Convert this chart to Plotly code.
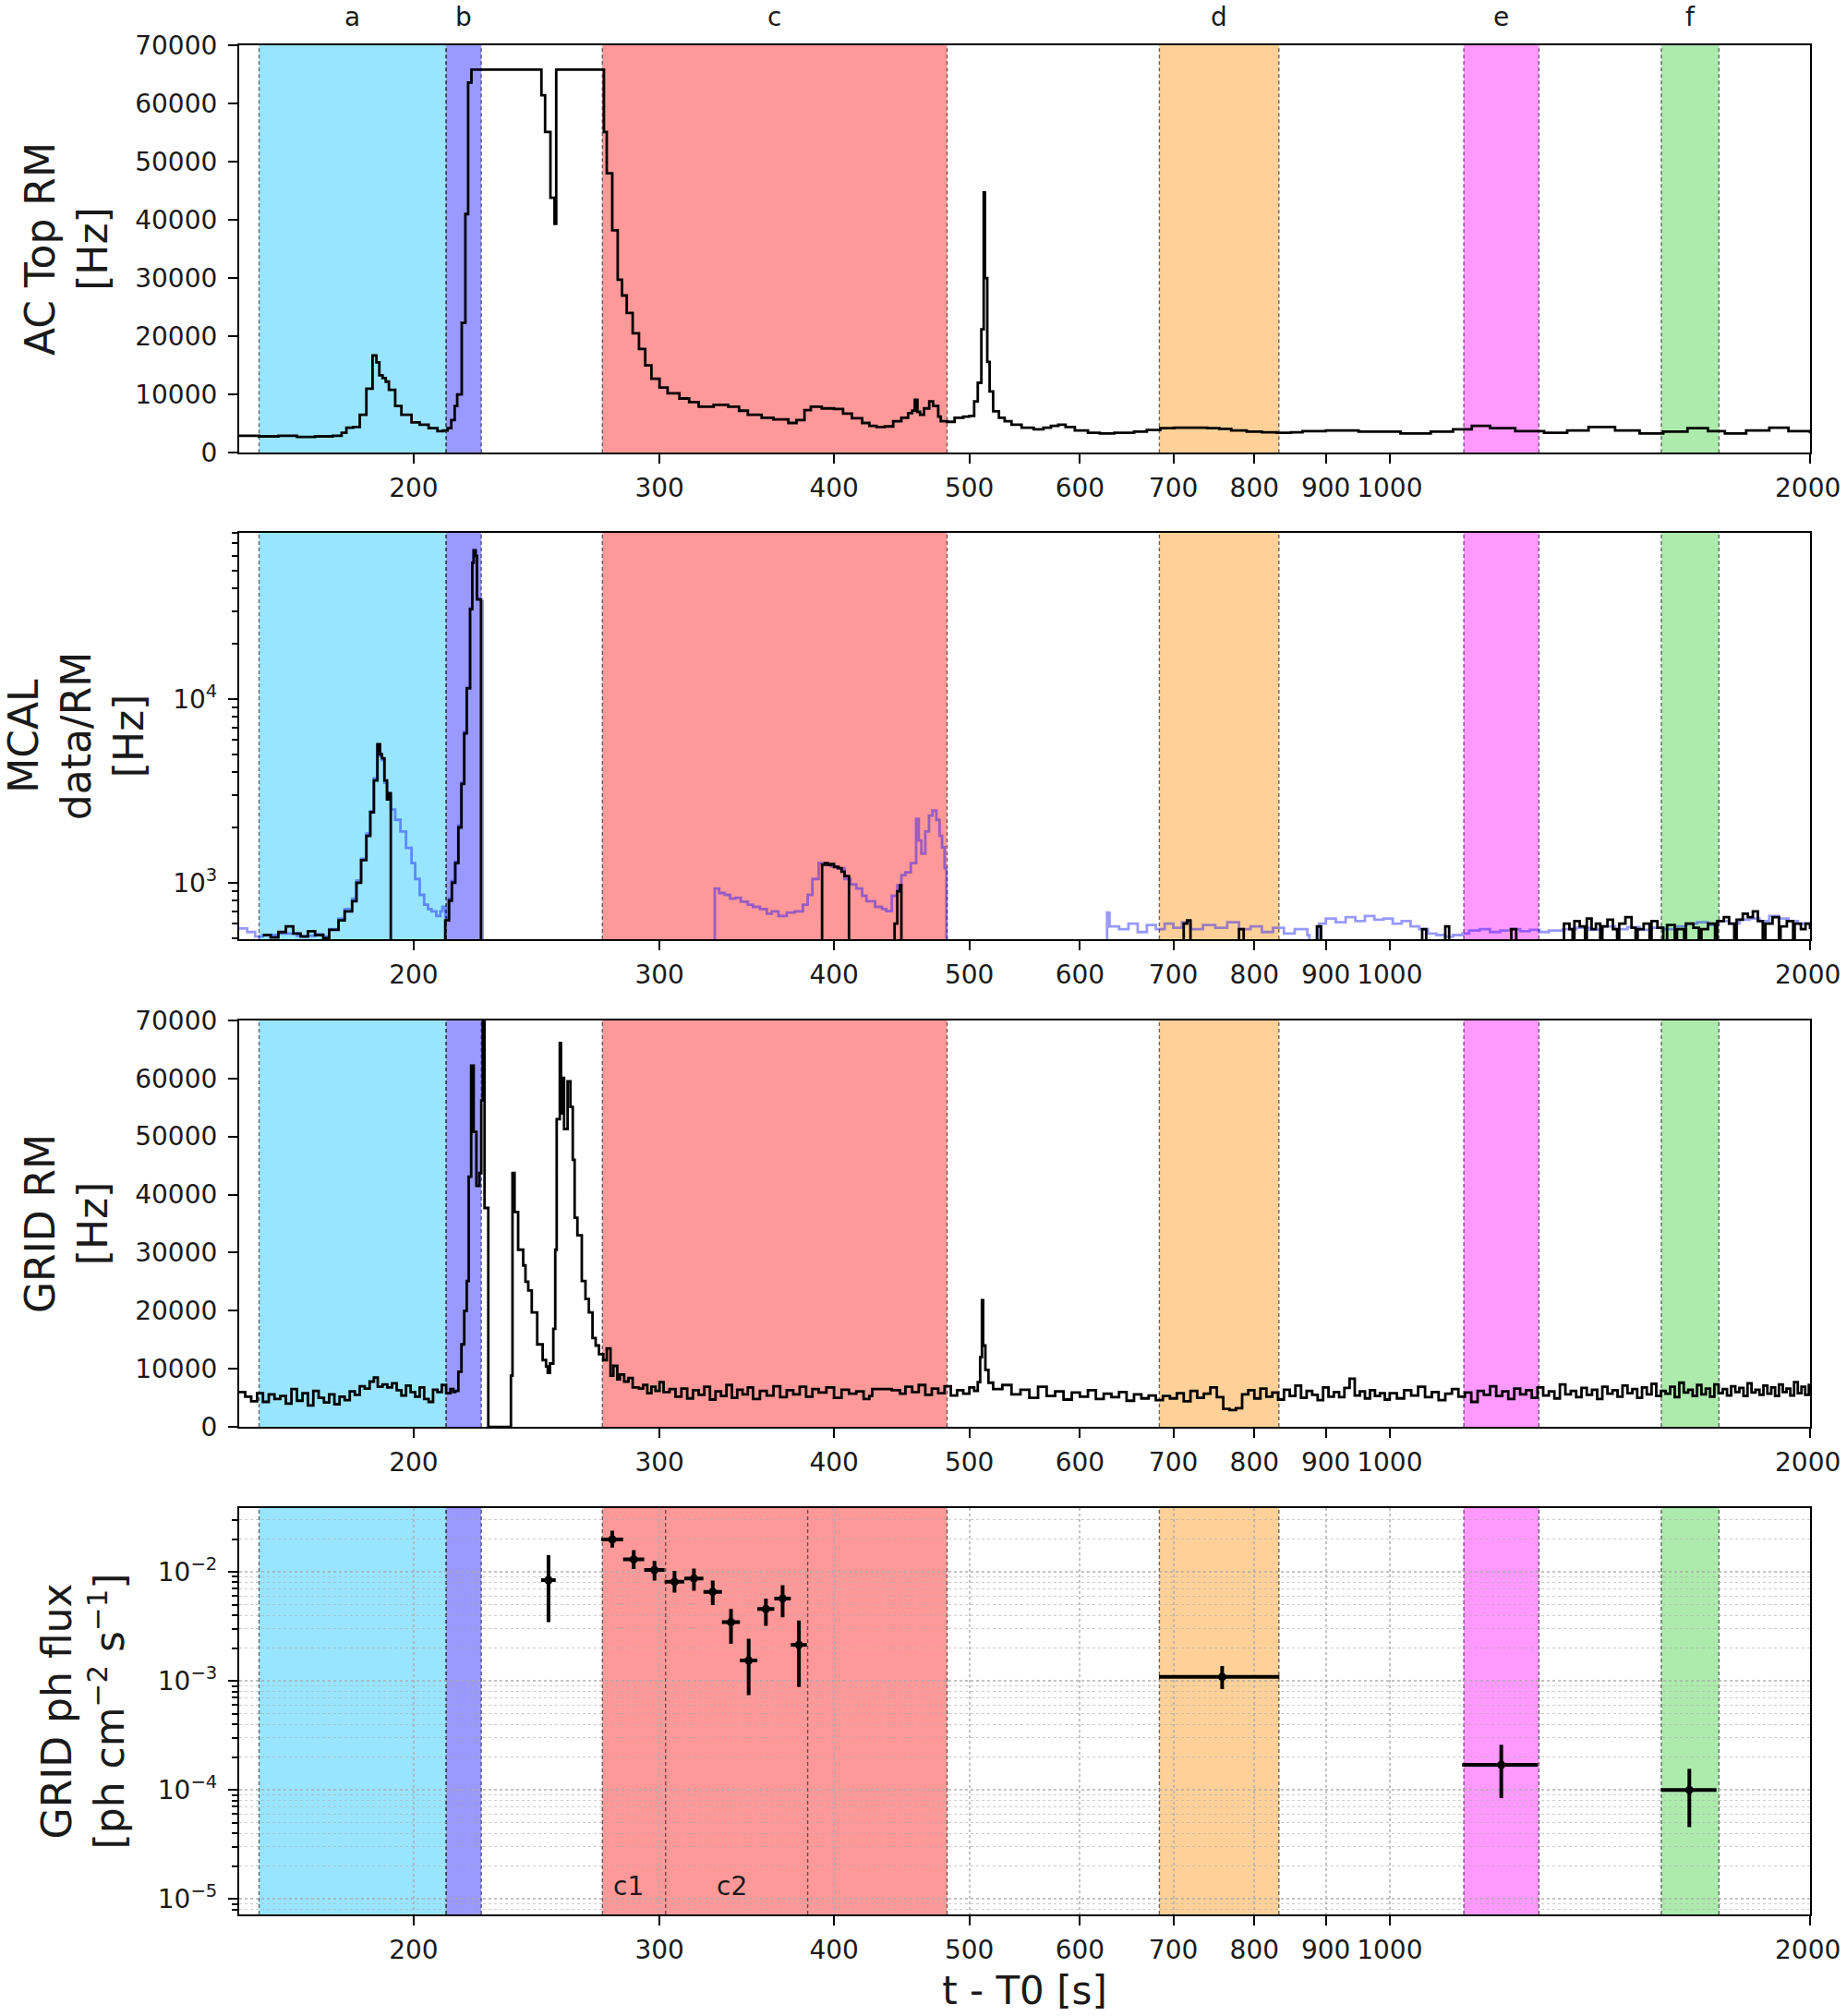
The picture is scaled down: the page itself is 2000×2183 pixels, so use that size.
import math
import plotly.graph_objects as go

# ---------------- data ----------------
X_RANGE = [150, 2000]
x_tickvals = [200, 300, 400, 500, 600, 700, 800, 900, 1000, 2000]
x_ticktext = ["200", "300", "400", "500", "600", "700", "800", "900", "1000", ""]
x_last_label = "2000"

band_names = ["a", "b", "c", "d", "e", "f"]
band_start = [155, 211, 273, 684, 1130, 1565]
band_end = [211, 223.6, 482, 833, 1279, 1721]
band_colors = ["#99e5ff", "#9999ff", "#ff9999", "#ffd199", "#ff99ff", "#adebad"]

sub_names = ["c1", "c2"]
sub_edges = [303, 383]
sub_label_t = [285, 338]

# Panel 1: AC Top ratemeter
ac_t = [150, 155, 160, 165, 170, 175, 177.6, 179, 181, 183, 185, 186.9, 188.1, 189, 190, 191, 192,
        194, 196, 199.3, 202, 205, 208, 210, 211.5, 212.8, 214, 214.9, 216.5, 217.8, 218.8, 220,
        230, 240, 246.2, 246.9, 248.4, 250.6, 252.3, 253, 260, 273, 273.7, 275, 277.5, 280, 282,
        284.2, 287, 290, 293, 296, 300, 304, 310, 315, 320, 328, 336, 342, 347, 355, 362, 371,
        376, 381, 385, 392, 400, 406, 412, 419, 424, 429, 435, 441, 447, 452, 455, 457, 459, 461,
        464, 468, 471, 475, 477, 482, 488, 495, 500, 504, 507, 510, 512, 513, 515, 517, 520, 525,
        530, 536, 545, 556, 565, 572, 579, 586, 595, 608, 620, 635, 656, 670, 685, 701, 720, 740,
        755, 770, 790, 810, 830, 850, 866, 900, 950, 1018, 1070, 1110, 1145, 1180, 1230, 1290,
        1340, 1388, 1450, 1510, 1570, 1634, 1690, 1738, 1800, 1870, 1930, 2000]
ac_rate = [2900, 2800, 2900, 2700, 2800, 2900, 3400, 4300, 4400, 6500, 11000, 16700, 15500, 13300,
           12800, 12200, 10800, 8000, 6500, 5200, 4800, 4200, 3700, 3800, 4200, 5600, 8000, 10000,
           22300, 41000, 63600, 65800, 65800, 65800, 65800, 61400, 55100, 43800, 39300, 65800,
           65800, 65800, 55100, 48000, 38200, 29700, 27000, 24000, 20500, 17800, 15000, 12700,
           11200, 10200, 9300, 8700, 7900, 8200, 7900, 7200, 6500, 6000, 5700, 5100, 5600, 7300,
           7900, 7600, 7500, 6700, 5900, 5100, 4600, 4400, 4500, 5400, 6000, 6800, 7200, 9100,
           7000, 6500, 7600, 8800, 8000, 6200, 5400, 5300, 6000, 6200, 6300, 8800, 12000, 21200,
           44700, 30000, 15600, 10500, 7100, 6000, 5400, 4800, 4300, 4000, 4300, 4600, 4800, 4400,
           3800, 3400, 3300, 3400, 3600, 3900, 4200, 4300, 4300, 4200, 4100, 3800, 3600, 3500,
           3400, 3500, 3700, 3800, 3600, 3300, 3600, 4000, 4600, 4200, 3700, 3400, 3800, 4400,
           3800, 3300, 3600, 4200, 3700, 3300, 3800, 4300, 3700, 3300]

# Panel 2: MCAL data (black) and ratemeter (blue); 1 = no counts (below axis)
mcal_data_t = [156, 158, 160, 162, 164, 166, 168, 170, 172.3, 174, 176.7, 178.5, 180.7, 182, 183.4,
               185, 186.2, 187.3, 188.4, 189.2, 189.8, 190.6, 191.4, 192, 192.6, 210.7, 212, 213,
               214.2, 215.3, 216.4, 217.4, 218.3, 219.5, 220.3, 220.8, 221.5, 222, 223.5, 392.2,
               394, 396, 398, 400, 403, 405, 407, 410, 442, 444, 446, 447, 712, 716, 720, 780, 786,
               887, 893, 1055, 1062, 1096, 1103, 1222, 1232, 1333, 1345, 1352, 1356, 1368, 1380,
               1384, 1395, 1405, 1415, 1420, 1432, 1445, 1455, 1460, 1475, 1490, 1500, 1505, 1520,
               1535, 1540, 1555, 1570, 1580, 1600, 1606, 1625, 1630, 1650, 1665, 1672, 1690, 1710,
               1716, 1735, 1750, 1765, 1772, 1790, 1805, 1820, 1835, 1850, 1858, 1880, 1900, 1905,
               1925, 1945, 1950, 1970, 1985, 2000]
mcal_data = [520, 505, 540, 580, 530, 510, 545, 520, 500, 555, 625, 700, 794, 1000, 1330, 1800,
             2420, 3600, 5670, 5000, 4750, 3600, 2840, 3070, 1, 625, 800, 1000, 1280, 2000, 3450,
             6500, 11400, 30800, 55000, 64300, 60000, 34700, 1, 1254, 1280, 1250, 1270, 1220, 1200,
             1150, 1088, 1, 600, 900, 970, 1, 600, 625, 1, 560, 1, 580, 1, 560, 1, 580, 1, 560, 1,
             600, 560, 1, 620, 580, 1, 640, 560, 600, 1, 580, 630, 560, 1, 600, 650, 570, 1, 560,
             600, 1, 620, 570, 1, 590, 1, 560, 1, 600, 570, 1, 560, 600, 1, 620, 650, 600, 1, 630,
             680, 650, 700, 620, 1, 600, 650, 1, 580, 620, 1, 600, 560, 600, 560]
mcal_rm_t = [150, 152, 154, 156, 160, 165, 170, 172.3, 174, 176.7, 178.5, 180.7, 182, 183.4, 185,
             186.2, 187.3, 188.4, 189.2, 189.8, 190.6, 191.4, 192.6, 194, 195.7, 197.5, 199.3,
             200.5, 202, 203.5, 204.8, 206, 207.6, 209, 209.7, 210.7, 212, 213, 214.2, 215.3,
             216.4, 217.4, 218.3, 219.5, 220.3, 220.8, 221.5, 222, 223.5, 224.1, 328.6, 331, 334,
             337, 340, 343, 347, 350, 354, 358, 361, 365, 370, 375, 380, 383, 386, 390, 394, 398,
             402, 407, 411, 415, 419, 422, 428, 433, 436, 440, 444, 447, 450, 454, 458, 460, 462,
             465, 467.8, 470.5, 473.5, 476, 478, 480, 481.5, 627.5, 630, 640, 650, 660, 670, 680,
             690, 700, 710, 720, 735, 750, 765, 780, 795, 810, 825, 840, 855, 873, 876, 890, 900,
             915, 930, 945, 960, 975, 990, 1005, 1020, 1035, 1050, 1065, 1080, 1095, 1110, 1127,
             1140, 1160, 1180, 1200, 1220, 1240, 1260, 1280, 1300, 1330, 1360, 1390, 1420, 1450,
             1480, 1510, 1540, 1570, 1600, 1630, 1660, 1690, 1720, 1750, 1780, 1810, 1840, 1870,
             1900, 1930, 1960, 2000]
mcal_rm = [565, 540, 510, 520, 530, 515, 525, 510, 560, 640, 720, 820, 1030, 1350, 1850, 2450,
           3700, 5600, 4900, 4650, 3500, 2900, 2500, 2200, 1900, 1550, 1280, 1050, 860, 760, 720,
           700, 660, 700, 740, 650, 820, 1020, 1300, 2050, 3500, 6600, 11500, 31000, 55000, 64000,
           60000, 35000, 34000, 1, 931, 880, 860, 820, 830, 790, 760, 740, 720, 680, 700, 660, 690,
           700, 760, 860, 1050, 1280, 1250, 1230, 1200, 1050, 980, 931, 850, 794, 740, 720, 702,
           850, 970, 1100, 1140, 1280, 2230, 1700, 1443, 1900, 2320, 2470, 2200, 1800, 1560, 1200,
           1, 690, 580, 560, 600, 540, 590, 560, 600, 570, 610, 560, 590, 570, 610, 560, 580, 540,
           570, 530, 560, 520, 1, 600, 640, 610, 650, 620, 660, 630, 640, 600, 620, 580, 560, 530,
           520, 510, 520, 530, 550, 560, 540, 550, 560, 545, 555, 540, 550, 560, 570, 555, 580,
           560, 575, 555, 570, 560, 580, 600, 610, 590, 620, 600, 630, 640, 620, 660, 640, 620,
           600, 580]

# Panel 3: GRID ratemeter
grid_t = [150, 151.5, 153, 154.5, 156, 157.5, 159, 160.5, 162, 163.5, 165, 166.5, 168, 169.5, 171,
          172.5, 174, 175.5, 177, 178.5, 180, 181.5, 183, 184.5, 186, 187.3, 188.5, 190, 191.5,
          193, 194.5, 196, 197.5, 199, 200.5, 202, 203.5, 205, 206.5, 208, 209.5, 211, 212.5,
          213.5, 214.2, 215.3, 216.4, 217.4, 218.3, 219, 219.9, 220.8, 221.8, 222.9, 223.6,
          224.1, 224.8, 226.2, 234.8, 235.4, 236.2, 237.6, 239.6, 240.5, 241.6, 243, 245.2,
          247.4, 248.8, 249.5, 250.4, 251.8, 252.6, 253.2, 254.5, 255, 255.6, 256.3, 257.8, 259,
          260, 260.8, 262, 263.9, 265.5, 267, 268.6, 270, 271.5, 273.4, 275, 276.7, 278, 279.8,
          281, 283, 285, 287, 290, 292, 294, 296, 298, 300, 302, 305, 308, 311, 314, 317, 320,
          323, 326, 329, 332, 335, 338, 341, 344, 347, 350, 354, 358, 362, 366, 370, 374, 378,
          382, 386, 390, 395, 400, 405, 410, 415, 420, 424, 426, 440, 446, 450, 455, 460, 465,
          470, 475, 480, 485, 490, 495, 500, 504, 507, 509, 510.5, 511.5, 513.4, 516,
          520, 528, 536, 544, 552, 560, 568, 576, 584, 592, 600, 608, 616, 624, 632, 640, 648,
          656, 664, 672, 680, 688, 696, 704, 712, 720, 728, 736, 744, 752, 760, 768, 776, 784,
          792, 800, 808, 816, 824, 832, 840, 848, 856, 864, 872, 880, 888, 896, 904, 912, 920,
          928, 936, 944, 952, 960, 968, 976, 984, 992,
          1000, 1012, 1024, 1036, 1048, 1060, 1072, 1084, 1096, 1108, 1120, 1132,
          1144, 1156, 1168, 1180, 1192, 1204, 1216, 1228, 1240, 1252, 1264, 1276,
          1288, 1300, 1312, 1324, 1336, 1348, 1360, 1372, 1384, 1396, 1408, 1420,
          1432, 1444, 1456, 1468, 1480, 1492, 1504, 1516, 1528, 1540, 1552, 1564,
          1576, 1588, 1600, 1612, 1624, 1636, 1648, 1660, 1672, 1684, 1696, 1708,
          1720, 1732, 1744, 1756, 1768, 1780, 1792, 1804, 1816, 1828, 1840, 1852,
          1864, 1876, 1888, 1900, 1912, 1924, 1936, 1948, 1960, 1972, 1984, 1996, 2000]
grid_rate = [6000, 5200, 4400, 5800, 4300, 5600, 4800, 5300, 4000, 6500, 4500, 5800, 3700, 6200,
             5000, 4200, 5600, 3900, 5200, 4600, 6100, 5500, 7000, 6600, 7800, 8500, 6900, 7300,
             6800, 7500, 6300, 5400, 7100, 6000, 5200, 6800, 4800, 4300, 6400, 6000, 7200, 5800,
             6500, 6000, 6200, 9500, 14200, 20000, 25100, 43100, 62200, 50800, 41500, 43700,
             56200, 75000, 37700, 0, 8800, 43700, 37000, 30500, 27800, 25000, 23500, 19700, 14200,
             11500, 10400, 9300, 10900, 16900, 30500, 53000, 66100, 54000, 60100, 51300, 59500,
             55100, 46000, 36000, 33000, 25100, 22000, 19700, 15300, 14000, 12500, 11500, 13500,
             8800, 10500, 8200, 9000, 7800, 8400, 6800, 6600, 7200, 5800, 6900, 6200, 7700, 6000,
             6500, 5200, 6600, 4900, 6300, 5500, 6900, 4700, 6100, 5300, 7200, 5000, 6400, 5600,
             6800, 4800, 6200, 5400, 7000, 5100, 6300, 5600, 6900, 5200, 6500, 5900, 6800, 5000,
             6400, 5700, 6100, 4800, 5300, 6500, 6300, 5700, 6900, 6000, 7200, 5500, 6600, 5800,
             7000, 5400, 6300, 5700, 6800, 6200, 7700, 12000, 21800, 14000, 9800, 7600,
             6500, 7200, 5600, 6400, 5000, 6900, 5300, 6100, 4700, 5900, 5200, 6300, 4800, 5700,
             5100, 6000, 4500, 5600, 4900, 5400, 4600, 5300, 4900, 5800, 4400, 6200, 5000, 5700,
             6800, 5100, 3100, 2900, 3200, 5600, 6300, 4900, 6600, 5200, 5900, 4700, 6400, 5300,
             7100, 5000, 6200, 5500, 4600, 6800, 5200, 6000, 5100, 6700, 8300, 5400, 6100, 4900,
             6300, 5300, 5800, 4700,
             5800, 4900, 6300, 5400, 6900, 5100, 6000, 4600, 5700, 6500, 5200, 5900,
             4300, 6200, 5500, 7000, 5300, 6100, 4800, 6600, 5600, 6300, 5000, 6800,
             5400, 6100, 4900, 7300, 5600, 6200, 5100, 6700, 5500, 6400, 4800, 6900,
             5700, 6300, 5200, 7100, 5800, 6500, 5000, 6800, 5600, 7400, 5300, 6200,
             5700, 6900, 5100, 7600, 5900, 6400, 5300, 7200, 5600, 6600, 5200, 7300,
             5800, 6500, 5400, 7000, 6000, 6700, 5300, 7500, 5900, 6400, 5500, 7100,
             5700, 6800, 5300, 7300, 6000, 6600, 5400, 7700, 5800, 6900, 5500, 7200, 6200]

# Panel 4: GRID photon flux
flux_t = [249.8, 277.5, 287.5, 297.5, 307.5, 317.5, 327.5, 337.5, 347.5, 357.5, 367.5, 377.5,
          758.6, 1202, 1639]
flux_t_err = [3, 5, 5, 5, 5, 5, 5, 5, 5, 5, 5, 5, 75, 75, 75]
flux = [8.4e-3, 1.98e-2, 1.30e-2, 1.04e-2, 8.1e-3, 8.7e-3, 6.56e-3, 3.45e-3, 1.54e-3, 4.57e-3,
        5.7e-3, 2.14e-3, 1.087e-3, 1.70e-4, 1.0e-4]
flux_hi = [1.42e-2, 2.38e-2, 1.58e-2, 1.26e-2, 1.02e-2, 1.07e-2, 8.3e-3, 4.57e-3, 2.43e-3, 5.7e-3,
           7.55e-3, 3.57e-3, 1.37e-3, 2.59e-4, 1.56e-4]
flux_lo = [3.45e-3, 1.67e-2, 1.06e-2, 8.3e-3, 6.47e-3, 6.7e-3, 4.96e-3, 2.19e-3, 7.4e-4, 3.2e-3,
           3.83e-3, 8.8e-4, 8.4e-4, 8.4e-5, 4.56e-5]

# ---------------- figure ----------------
W, H = 2000, 2183
M_L = 259
M_R = 40
panel_px = [(49, 491), (578, 1019), (1107, 1548), (1636, 2077)]
M_T = panel_px[0][0]
M_B = H - panel_px[-1][1]
PH = H - M_T - M_B
domains = [[(H - M_B - b) / PH, (H - M_B - t) / PH] for t, b in panel_px]

FONT = "DejaVu Sans"
TICK_FS = 28
TITLE_FS = 44
INK = "#1a1a1a"

fig = go.Figure()

fig.add_trace(go.Scatter(x=ac_t, y=ac_rate, mode="lines", line=dict(color="black", width=2.8, shape="hv"),
                         xaxis="x", yaxis="y", showlegend=False))
fig.add_trace(go.Scatter(x=mcal_rm_t, y=mcal_rm, mode="lines",
                         line=dict(color="rgba(0,0,255,0.4)", width=2.8, shape="hv"),
                         xaxis="x2", yaxis="y2", showlegend=False))
fig.add_trace(go.Scatter(x=mcal_data_t, y=mcal_data, mode="lines", line=dict(color="black", width=2.8, shape="hv"),
                         xaxis="x2", yaxis="y2", showlegend=False))
fig.add_trace(go.Scatter(x=grid_t, y=grid_rate, mode="lines", line=dict(color="black", width=2.8, shape="hv"),
                         xaxis="x3", yaxis="y3", showlegend=False))
fig.add_trace(go.Scatter(x=flux_t, y=flux, mode="markers",
                         marker=dict(color="black", size=9),
                         error_x=dict(type="data", array=flux_t_err, color="black", thickness=4, width=0),
                         error_y=dict(type="data", symmetric=False,
                                      array=[h - f for h, f in zip(flux_hi, flux)],
                                      arrayminus=[f - l for f, l in zip(flux, flux_lo)],
                                      color="black", thickness=4, width=0),
                         xaxis="x4", yaxis="y4", showlegend=False))

shapes = []
edge_line = dict(color="rgba(30,30,30,0.65)", width=1.4, dash="4px,3px")
for k in range(4):
    xr = "x" if k == 0 else f"x{k+1}"
    yr = ("y" if k == 0 else f"y{k+1}") + " domain"
    for s, e, c in zip(band_start, band_end, band_colors):
        shapes.append(dict(type="rect", xref=xr, yref=yr, x0=s, x1=e, y0=0, y1=1,
                           fillcolor=c, line=dict(width=0), layer="below"))
    for s, e in zip(band_start, band_end):
        for xv in (s, e):
            shapes.append(dict(type="line", xref=xr, yref=yr, x0=xv, x1=xv, y0=0, y1=1,
                               line=edge_line, layer="below"))
for xv in sub_edges:
    shapes.append(dict(type="line", xref="x4", yref="y4 domain", x0=xv, x1=xv, y0=0, y1=1,
                       line=edge_line, layer="below"))

annotations = []
for name, s, e in zip(band_names, band_start, band_end):
    annotations.append(dict(text=name, x=math.log10(math.sqrt(s * e)), xref="x",
                            y=(H - M_B - 18) / PH,
                            yref="paper", showarrow=False, yanchor="middle", xanchor="center",
                            font=dict(family=FONT, size=TICK_FS, color=INK)))
for name, t in zip(sub_names, sub_label_t):
    annotations.append(dict(text=name, x=math.log10(t), xref="x4", y=math.log10(1.3e-5), yref="y4",
                            showarrow=False, yanchor="middle", xanchor="center",
                            font=dict(family=FONT, size=TICK_FS, color=INK)))
# last x tick label, kept inside the page edge
for k in range(4):
    xr = ("x" if k == 0 else f"x{k+1}") + " domain"
    yr = ("y" if k == 0 else f"y{k+1}") + " domain"
    annotations.append(dict(text=x_last_label, x=1, xref=xr, y=0, yref=yr, xanchor="center",
                            yanchor="top", xshift=-3, yshift=-21, showarrow=False, borderpad=0,
                            font=dict(family=FONT, size=TICK_FS, color=INK)))

axis_common = dict(showline=True, linecolor="black", linewidth=2.2, mirror=True, ticks="outside",
                   ticklen=10, tickwidth=2.2, tickcolor="black",
                   tickfont=dict(family=FONT, size=TICK_FS, color=INK), zeroline=False)

layout = dict(width=W, height=H, margin=dict(l=M_L, r=M_R, t=M_T, b=M_B),
              plot_bgcolor="white", paper_bgcolor="white", shapes=shapes, annotations=annotations,
              font=dict(family=FONT, color=INK))

for k in range(4):
    xk = "xaxis" if k == 0 else f"xaxis{k+1}"
    yk = "yaxis" if k == 0 else f"yaxis{k+1}"
    xa = dict(axis_common, type="log", range=[math.log10(X_RANGE[0]), math.log10(X_RANGE[1])],
              tickmode="array", tickvals=x_tickvals, ticktext=x_ticktext, tickangle=0,
              ticklabelstandoff=2,
              anchor="y" if k == 0 else f"y{k+1}", showgrid=(k == 3),
              gridcolor="rgba(170,170,170,0.7)", griddash="dot", gridwidth=1.6)
    if k > 0:
        xa["matches"] = "x"
    layout[xk] = xa
    ya = dict(axis_common, domain=domains[k], anchor="x" if k == 0 else f"x{k+1}", showgrid=False,
              ticklabelstandoff=6)
    layout[yk] = ya

layout["yaxis"].update(range=[0, 70000], tickmode="linear", tick0=0, dtick=10000, tickformat="d",
                       title=dict(text="AC Top RM<br>[Hz]", font=dict(family=FONT, size=TITLE_FS, color=INK),
                                  standoff=16))
layout["yaxis2"].update(type="log", range=[2.693, 4.903], tickmode="array", tickvals=[1000, 10000],
                        ticktext=["10<sup>3</sup>", "10<sup>4</sup>"],
                        minor=dict(tickmode="array",
                                   tickvals=[500, 600, 700, 800, 900, 2000, 3000, 4000, 5000, 6000,
                                             7000, 8000, 9000, 20000, 30000, 40000, 50000, 60000,
                                             70000, 80000],
                                   ticks="outside", ticklen=5.6, tickwidth=1.7, tickcolor="black"),
                        title=dict(text="MCAL<br>data/RM<br>[Hz]",
                                   font=dict(family=FONT, size=TITLE_FS, color=INK), standoff=22))
layout["yaxis3"].update(range=[0, 70000], tickmode="linear", tick0=0, dtick=10000, tickformat="d",
                        title=dict(text="GRID RM<br>[Hz]", font=dict(family=FONT, size=TITLE_FS, color=INK),
                                   standoff=16))
minor4 = [m * 10.0 ** e for e in range(-6, -1) for m in range(2, 10)]
layout["yaxis4"].update(type="log", range=[-5.142, -1.414], tickmode="array",
                        tickvals=[1e-5, 1e-4, 1e-3, 1e-2],
                        ticktext=["10<sup>−5</sup>", "10<sup>−4</sup>", "10<sup>−3</sup>", "10<sup>−2</sup>"],
                        showgrid=True, gridcolor="rgba(170,170,170,0.7)", griddash="dot", gridwidth=1.6,
                        minor=dict(tickmode="array", tickvals=minor4, ticks="outside", ticklen=5.6,
                                   tickwidth=1.7, tickcolor="black", showgrid=True,
                                   gridcolor="rgba(170,170,170,0.6)", griddash="dot", gridwidth=1.4),
                        title=dict(text="GRID ph flux<br>[ph cm<sup>−2</sup> s<sup>−1</sup>]",
                                   font=dict(family=FONT, size=TITLE_FS, color=INK), standoff=22))
layout["xaxis4"].update(title=dict(text="t - T0 [s]", font=dict(family=FONT, size=42, color=INK),
                                   standoff=14))

fig.update_layout(**layout)
fig.write_html("out.html", config={"displayModeBar": False})
